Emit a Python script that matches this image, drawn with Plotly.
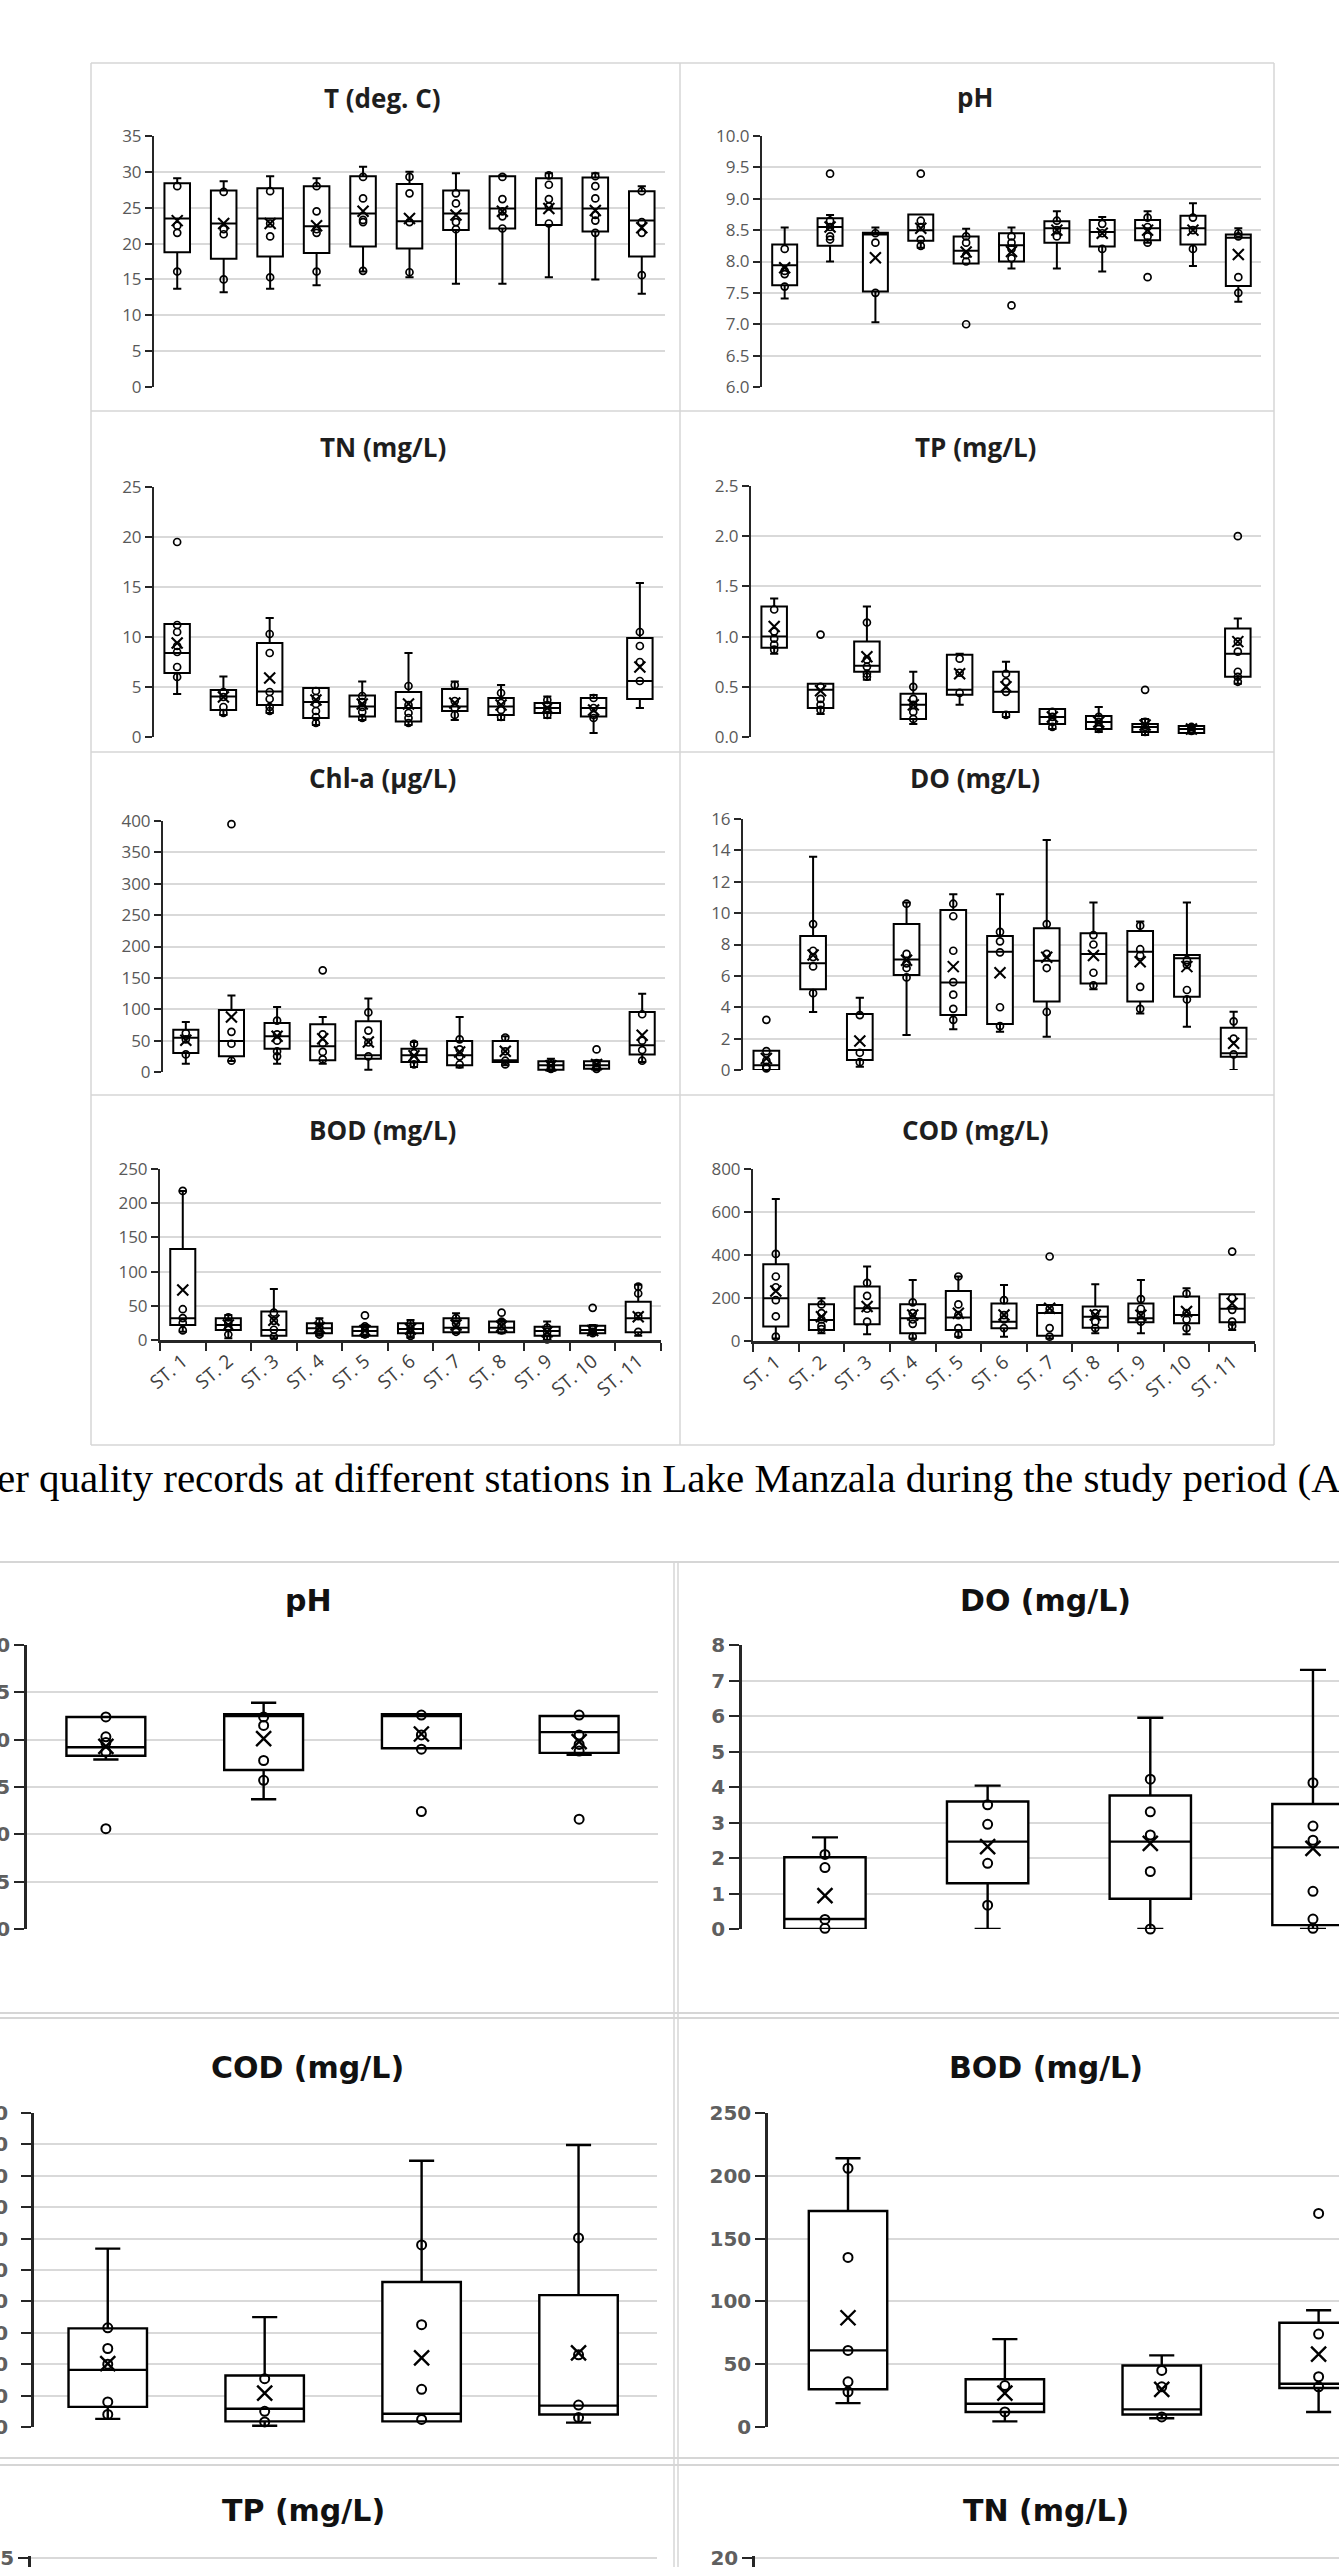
import plotly.graph_objects as go

W, H = 1339, 2567

stations = ["ST. 1", "ST. 2", "ST. 3", "ST. 4", "ST. 5", "ST. 6",
            "ST. 7", "ST. 8", "ST. 9", "ST. 10", "ST. 11"]
groups = [0, 1, 2, 3]   # bottom figure box positions (labels cropped out of view)

caption = "er quality records at different stations in Lake Manzala during the study period (A"

# ---------------- top figure (11 stations) ----------------
T_q1 = [18.8, 17.9, 18.2, 18.7, 19.6, 19.3, 21.9, 22.1, 22.6, 21.7, 18.2]
T_med = [23.5, 22.8, 23.5, 22.4, 24.2, 23.1, 24.2, 24.9, 24.9, 24.9, 23.2]
T_q3 = [28.4, 27.4, 27.7, 28.0, 29.4, 28.3, 27.4, 29.4, 29.1, 29.2, 27.3]
T_lo = [13.7, 13.2, 13.7, 14.2, 16.1, 15.3, 14.4, 14.4, 15.3, 15.0, 13.0]
T_hi = [29.1, 28.7, 29.4, 29.1, 30.7, 30.0, 29.8, 29.5, 29.8, 29.8, 28.0]
T_mean = [23.2, 22.8, 22.8, 22.5, 24.5, 23.5, 24.0, 24.5, 24.9, 24.6, 22.2]
T_pts = [[28.0, 22.5, 21.5, 16.1], [27.2, 22.0, 21.3, 15.0], [27.3, 22.8, 21.0, 15.3],
         [28.0, 24.5, 22.0, 21.5, 16.1], [29.3, 26.3, 23.3, 23.0, 16.2], [29.3, 27.0, 23.0, 16.0],
         [27.0, 25.6, 23.0, 22.0], [29.3, 26.2, 24.5, 23.8, 22.1], [29.5, 28.2, 26.2, 25.2, 22.8],
         [29.4, 28.0, 26.3, 24.0, 23.2, 21.5], [27.3, 23.0, 21.5, 15.6]]

pH_q1 = [7.62, 8.25, 7.52, 8.33, 7.97, 8.0, 8.3, 8.24, 8.34, 8.27, 7.61]
pH_med = [7.94, 8.55, 8.43, 8.5, 8.17, 8.26, 8.53, 8.47, 8.53, 8.53, 8.38]
pH_q3 = [8.27, 8.69, 8.46, 8.75, 8.4, 8.45, 8.64, 8.66, 8.66, 8.73, 8.43]
pH_lo = [7.41, 8.0, 7.03, 8.22, 7.97, 7.89, 7.89, 7.84, 8.3, 7.93, 7.36]
pH_hi = [8.54, 8.74, 8.54, 8.75, 8.52, 8.54, 8.8, 8.71, 8.8, 8.93, 8.53]
pH_mean = [7.9, 8.55, 8.06, 8.53, 8.15, 8.16, 8.5, 8.45, 8.5, 8.5, 8.11]
pH_pts = [[8.2, 7.85, 7.8, 7.6], [9.4, 8.65, 8.55, 8.4, 8.35], [8.45, 8.3, 7.5],
          [9.4, 8.65, 8.55, 8.35, 8.25], [8.4, 8.3, 8.1, 8.0, 7.0], [8.4, 8.3, 8.2, 8.05, 7.3],
          [8.65, 8.5, 8.4], [8.6, 8.45, 8.2], [8.7, 8.55, 8.4, 8.3, 7.75],
          [8.7, 8.5, 8.2], [8.45, 8.4, 7.75, 7.5]]

TN_q1 = [6.4, 2.7, 3.2, 1.9, 2.05, 1.55, 2.6, 2.2, 2.4, 2.05, 3.8]
TN_med = [8.4, 4.05, 4.55, 3.5, 3.05, 2.9, 3.05, 3.05, 2.9, 2.9, 5.6]
TN_q3 = [11.3, 4.7, 9.4, 4.9, 4.15, 4.5, 4.8, 3.9, 3.4, 3.9, 9.9]
TN_lo = [4.3, 2.2, 2.4, 1.2, 1.7, 1.2, 1.7, 1.7, 1.9, 0.4, 2.9]
TN_hi = [11.3, 6.05, 11.9, 4.9, 5.55, 8.4, 5.55, 5.2, 4.05, 4.2, 15.4]
TN_mean = [9.4, 4.0, 5.9, 3.7, 3.3, 3.3, 3.4, 3.2, 2.9, 2.7, 7.0]
TN_pts = [[19.5, 11.2, 10.5, 9.1, 8.5, 7.0, 6.0], [4.5, 4.0, 3.0, 2.4], [10.3, 8.4, 4.5, 3.8, 3.0, 2.6],
          [4.6, 3.9, 3.3, 2.6, 2.0, 1.4], [4.1, 3.5, 3.0, 2.5, 1.9], [5.1, 3.2, 2.4, 1.9, 1.4],
          [5.2, 3.6, 2.9, 2.2], [4.4, 3.4, 2.7, 2.0], [3.7, 3.2, 2.7, 2.2],
          [3.9, 2.9, 2.2, 1.9], [10.5, 9.1, 7.5, 5.6]]

TP_q1 = [0.89, 0.29, 0.65, 0.18, 0.42, 0.25, 0.13, 0.08, 0.05, 0.04, 0.6]
TP_med = [1.0, 0.47, 0.71, 0.32, 0.47, 0.45, 0.2, 0.15, 0.1, 0.08, 0.83]
TP_q3 = [1.30, 0.53, 0.95, 0.43, 0.82, 0.65, 0.28, 0.21, 0.13, 0.11, 1.08]
TP_lo = [0.83, 0.23, 0.57, 0.13, 0.32, 0.2, 0.08, 0.05, 0.02, 0.035, 0.53]
TP_hi = [1.38, 0.53, 1.30, 0.65, 0.83, 0.75, 0.28, 0.30, 0.18, 0.12, 1.18]
TP_mean = [1.1, 0.46, 0.8, 0.32, 0.63, 0.5, 0.2, 0.15, 0.12, 0.08, 0.95]
TP_pts = [[1.27, 1.05, 0.98, 0.92, 0.87], [1.02, 0.5, 0.38, 0.32, 0.27], [1.14, 0.77, 0.7, 0.63, 0.6],
          [0.5, 0.38, 0.32, 0.25, 0.18], [0.78, 0.64, 0.44], [0.63, 0.55, 0.45, 0.22],
          [0.25, 0.2, 0.15, 0.1], [0.2, 0.15, 0.1, 0.08], [0.47, 0.15, 0.1, 0.05],
          [0.1, 0.08, 0.06], [2.0, 0.95, 0.85, 0.65, 0.6, 0.55]]

Chl_q1 = [30.3, 25, 37.2, 18.6, 21, 16, 10.6, 16, 3.7, 5.3, 28]
Chl_med = [54.7, 49.4, 56.8, 41, 26.6, 26.6, 26.6, 18.6, 10.6, 10.6, 42.5]
Chl_q3 = [67.5, 99, 78, 76, 81, 37, 49.4, 49.4, 17, 17, 95.6]
Chl_lo = [13.3, 17.5, 13.3, 13.3, 3.7, 8, 7, 10.6, 1.6, 2.7, 16]
Chl_hi = [79.7, 122, 103.6, 87.6, 117, 47.8, 87.6, 56.8, 21, 18.6, 124.8]
Chl_mean = [50.5, 87.6, 57, 53, 47.8, 26, 32, 33, 10, 12, 58.4]
Chl_pts = [[62, 52, 28], [395, 64, 45, 18], [82, 60, 50, 33, 25], [162, 60, 46, 32, 20],
           [95, 66, 47, 25], [45, 30, 20, 12], [52, 36, 25, 12], [55, 33, 18, 12],
           [15, 10, 5], [36, 14, 8, 5], [92, 50, 35, 18]]

DO_q1 = [0.0, 5.14, 0.64, 6.06, 3.5, 2.93, 4.36, 5.52, 4.36, 4.67, 0.85]
DO_med = [0.3, 6.8, 1.27, 7.05, 5.57, 7.54, 6.97, 7.4, 7.54, 7.12, 1.06]
DO_q3 = [1.23, 8.54, 3.57, 9.3, 10.2, 8.54, 9.03, 8.71, 8.86, 7.33, 2.7]
DO_lo = [0.0, 3.7, 0.2, 2.23, 2.6, 2.44, 2.12, 5.14, 3.6, 2.76, 0.0]
DO_hi = [1.23, 13.6, 4.6, 10.67, 11.2, 11.2, 14.66, 10.67, 9.46, 10.67, 3.72]
DO_mean = [0.74, 7.33, 1.85, 7.0, 6.59, 6.2, 7.18, 7.3, 6.9, 6.59, 1.7]
DO_pts = [[3.2, 1.2, 0.6, 0.2, 0.1], [9.3, 7.6, 7.2, 6.6, 4.9], [3.5, 1.1, 0.5],
          [10.6, 7.4, 6.8, 6.5, 5.9], [10.6, 9.8, 7.6, 5.6, 4.8, 3.9, 3.2], [8.8, 8.2, 7.5, 4.0, 2.8],
          [9.3, 7.4, 6.5, 3.7], [8.6, 8.0, 6.2, 5.4], [9.2, 7.7, 7.3, 5.3, 3.9],
          [7.0, 6.7, 5.1, 4.5], [3.1, 2.0, 1.0]]

BOD_q1 = [22, 14.6, 6.3, 9.8, 6.3, 9.8, 11.2, 11.2, 6.3, 9.8, 11.2]
BOD_med = [31.7, 22, 14.6, 17, 13, 16, 18, 18, 13, 14.6, 31.7]
BOD_q3 = [133, 31.7, 41.5, 24.4, 19.5, 24.4, 31.7, 26.9, 19.5, 21, 56]
BOD_lo = [12.2, 2.4, 2.4, 6.3, 4.9, 3.4, 9.8, 9.8, 0, 8.3, 6.3]
BOD_hi = [218, 36.6, 74.7, 31.7, 22, 29.3, 39, 29.3, 26.9, 22, 80.6]
BOD_mean = [73, 22, 29, 18, 14, 16, 22, 20, 12, 14, 34]
BOD_pts = [[218, 45, 32, 25, 14], [33, 25, 18, 8], [40, 28, 15, 5], [26, 18, 12, 8],
           [36, 20, 13, 8], [24, 17, 10, 6], [32, 24, 12], [40, 27, 20, 14],
           [18, 12, 5, 1], [47, 16, 12, 10], [78, 68, 35, 12]]

COD_q1 = [67, 51, 78, 36, 51, 59, 25, 62, 87, 82, 87]
COD_med = [199, 98, 152, 106, 109, 90, 130, 113, 106, 121, 150]
COD_q3 = [357, 171, 253, 171, 233, 175, 168, 160, 175, 207, 217]
COD_lo = [12, 36, 31, 12, 20, 20, 12, 36, 36, 31, 51]
COD_hi = [660, 199, 346, 284, 300, 261, 168, 264, 284, 245, 217]
COD_mean = [233, 113, 160, 121, 129, 121, 152, 121, 120, 137, 175]
COD_pts = [[405, 300, 250, 190, 115, 20], [170, 130, 100, 70, 55], [270, 210, 150, 90],
           [180, 130, 100, 80, 20], [300, 170, 120, 60, 30], [190, 120, 100, 60],
           [393, 150, 60, 20], [130, 90, 60], [195, 150, 120, 90], [220, 130, 100, 60],
           [416, 200, 145, 90, 70]]

# ---------------- bottom figure (4 groups) ----------------
BpH_q1 = [7.83, 7.68, 7.91, 7.86]
BpH_med = [7.92, 8.25, 8.25, 8.08]
BpH_q3 = [8.24, 8.27, 8.27, 8.25]
BpH_lo = [7.79, 7.37, 7.91, 7.84]
BpH_hi = [8.24, 8.39, 8.27, 8.25]
BpH_mean = [7.93, 8.01, 8.06, 7.98]
BpH_pts = [[8.24, 8.03, 7.97, 7.87, 7.06], [8.24, 8.15, 7.78, 7.57],
           [8.26, 8.05, 7.9, 7.24], [8.26, 8.05, 7.95, 7.88, 7.16]]

BDO_q1 = [0.0, 1.29, 0.85, 0.11]
BDO_med = [0.28, 2.46, 2.46, 2.3]
BDO_q3 = [2.02, 3.59, 3.76, 3.52]
BDO_lo = [0.0, 0.0, 0.0, 0.0]
BDO_hi = [2.58, 4.04, 5.95, 7.3]
BDO_mean = [0.94, 2.32, 2.41, 2.27]
BDO_pts = [[2.1, 1.73, 0.27, 0.02], [3.5, 2.95, 1.85, 0.67],
           [4.22, 3.3, 2.65, 1.62, 0.0], [4.12, 2.9, 2.5, 1.06, 0.28, 0.02]]

BCOD_q1 = [32, 9, 9, 20]
BCOD_med = [91, 29, 21, 34]
BCOD_q3 = [157, 82, 231, 210]
BCOD_lo = [13, 2, 9, 7]
BCOD_hi = [284, 175, 424, 449]
BCOD_mean = [101, 54, 110, 118]
BCOD_pts = [[158, 125, 100, 40, 20], [77, 25, 8], [290, 163, 60, 12], [301, 115, 35, 15]]

BBOD_q1 = [30, 12, 10, 31]
BBOD_med = [61, 18.5, 14, 34.4]
BBOD_q3 = [172, 38, 49, 83]
BBOD_lo = [19, 4.5, 7, 12]
BBOD_hi = [214, 70, 57, 93]
BBOD_mean = [87, 27, 30, 58]
BBOD_pts = [[206, 135, 61, 36, 28], [33, 12], [45, 32, 8], [170, 74, 40, 32]]

BTP_top = 2.5
BTN_top = 20

# ---------------------------------------------------------------
fig = go.Figure()


def fx(p):
    return p / W


def fy(p):
    return 1 - p / H


def names(n):
    return ("x" if n == 1 else f"x{n}"), ("y" if n == 1 else f"y{n}")


def add_boxes(n, xs, q1, med, q3, lo, hi, mean, pts, bw, lw, ms, mlw, xsz):
    xa, ya = names(n)
    fig.add_trace(go.Box(x=xs, q1=q1, median=med, q3=q3, lowerfence=lo, upperfence=hi,
                         width=bw, whiskerwidth=0.32, fillcolor="white",
                         line=dict(color="black", width=lw), boxpoints=False,
                         xaxis=xa, yaxis=ya, showlegend=False, hoverinfo="skip"))
    px_, py_ = [], []
    for x, p in zip(xs, pts):
        px_ += [x] * len(p)
        py_ += p
    fig.add_trace(go.Scatter(x=px_, y=py_, mode="markers", cliponaxis=False,
                             marker=dict(symbol="circle-open", size=ms, color="black",
                                         line=dict(color="black", width=mlw)),
                             xaxis=xa, yaxis=ya, showlegend=False, hoverinfo="skip"))
    fig.add_trace(go.Scatter(x=xs, y=mean, mode="markers", cliponaxis=False,
                             marker=dict(symbol="x-thin", size=xsz, color="black",
                                         line=dict(color="black", width=mlw + 0.4)),
                             xaxis=xa, yaxis=ya, showlegend=False, hoverinfo="skip"))


top_sets = [
    (1, T_q1, T_med, T_q3, T_lo, T_hi, T_mean, T_pts),
    (2, pH_q1, pH_med, pH_q3, pH_lo, pH_hi, pH_mean, pH_pts),
    (3, TN_q1, TN_med, TN_q3, TN_lo, TN_hi, TN_mean, TN_pts),
    (4, TP_q1, TP_med, TP_q3, TP_lo, TP_hi, TP_mean, TP_pts),
    (5, Chl_q1, Chl_med, Chl_q3, Chl_lo, Chl_hi, Chl_mean, Chl_pts),
    (6, DO_q1, DO_med, DO_q3, DO_lo, DO_hi, DO_mean, DO_pts),
    (7, BOD_q1, BOD_med, BOD_q3, BOD_lo, BOD_hi, BOD_mean, BOD_pts),
    (8, COD_q1, COD_med, COD_q3, COD_lo, COD_hi, COD_mean, COD_pts),
]
for n, a, b, c, d, e, f, g in top_sets:
    add_boxes(n, stations, a, b, c, d, e, f, g, 0.55, 2.0, 7, 1.7, 11)

bot_sets = [
    (9, BpH_q1, BpH_med, BpH_q3, BpH_lo, BpH_hi, BpH_mean, BpH_pts),
    (10, BDO_q1, BDO_med, BDO_q3, BDO_lo, BDO_hi, BDO_mean, BDO_pts),
    (11, BCOD_q1, BCOD_med, BCOD_q3, BCOD_lo, BCOD_hi, BCOD_mean, BCOD_pts),
    (12, BBOD_q1, BBOD_med, BBOD_q3, BBOD_lo, BBOD_hi, BBOD_mean, BBOD_pts),
]
for n, a, b, c, d, e, f, g in bot_sets:
    add_boxes(n, groups, a, b, c, d, e, f, g, 0.5, 2.4, 9, 2.0, 15)

# empty subplots whose contents lie below the page edge
for n in (13, 14):
    xa, ya = names(n)
    fig.add_trace(go.Scatter(x=[], y=[], xaxis=xa, yaxis=ya, showlegend=False))

layout = {}
TICKF = dict(family="Open Sans", size=17, color="#595959")
BTICKF = dict(family="DejaVu Sans", size=20, color="#5f5f5f", weight="bold")


def set_axes(n, xdom, ytop_px, ybot_px, yrng, dtick=None, fmt="", tickvals=None,
             xrng=None, cat=True, xlabels=False, bottom=False, standoff=None):
    xa, ya = names(n)
    xk = "xaxis" if n == 1 else f"xaxis{n}"
    yk = "yaxis" if n == 1 else f"yaxis{n}"
    xd = dict(domain=[fx(xdom[0]), fx(xdom[1])], anchor=ya, showgrid=False, zeroline=False,
              range=xrng, fixedrange=True)
    if cat:
        xd.update(type="category", categoryorder="array", categoryarray=stations)
    if xlabels:
        xd.update(showticklabels=True, showline=True, linecolor="#262626", linewidth=2.5,
                  ticks="outside", tickson="boundaries", ticklen=8, tickwidth=2,
                  tickcolor="#262626", tickangle=-40, ticklabeloverflow="allow",
                  tickfont=dict(family="Open Sans", size=19, color="#404040"))
    else:
        xd.update(showticklabels=False, showline=False, ticks="")
    layout[xk] = xd
    yd = dict(domain=[fy(ybot_px), fy(ytop_px)], anchor=xa, range=yrng, showline=True,
              linecolor="#262626", linewidth=2.5 if bottom else 2, ticks="outside",
              ticklen=10 if bottom else 7, tickwidth=2, tickcolor="#262626",
              showgrid=True, gridcolor="#d9d9d9", gridwidth=2 if bottom else 1.5,
              zeroline=False, tickfont=BTICKF if bottom else TICKF, tickformat=fmt,
              ticklabeloverflow="allow", fixedrange=True)
    if standoff is not None:
        yd["ticklabelstandoff"] = standoff
    if tickvals is not None:
        yd.update(tickmode="array", tickvals=tickvals)
    else:
        yd.update(tickmode="linear", tick0=yrng[0], dtick=dtick)
    layout[yk] = yd


TR = [-0.5, 10.5]
set_axes(1, (154, 665), 136, 387, [0, 35], 5, xrng=TR)
set_axes(2, (762, 1261), 136, 387, [6, 10], 0.5, ".1f", xrng=TR)
set_axes(3, (154, 663), 487, 737, [0, 25], 5, xrng=TR)
set_axes(4, (751, 1261), 486, 737, [0, 2.5], 0.5, ".1f", xrng=TR)
set_axes(5, (163, 665), 821, 1072, [0, 400], 50, xrng=TR)
set_axes(6, (743, 1257), 819, 1070, [0, 16], 2, xrng=TR)
set_axes(7, (160, 661), 1169, 1340, [0, 250], 50, xrng=TR, xlabels=True)
set_axes(8, (753, 1255), 1169, 1341, [0, 800], 200, xrng=TR, xlabels=True)

set_axes(9, (27, 658), 1645, 1929, [6, 9], 0.5, ".1f", xrng=[-0.5, 3.5], cat=False, bottom=True)
set_axes(10, (742, 1339), 1645, 1929, [0, 8], 1, xrng=[-0.51, 3.16], cat=False, bottom=True)
set_axes(11, (34, 657), 2113, 2427, [0, 500], 50, xrng=[-0.47, 3.5], cat=False, bottom=True,
         standoff=9)
set_axes(12, (768, 1339), 2113, 2427, [0, 250], 50, xrng=[-0.51, 3.13], cat=False, bottom=True)
# bottom row: only the top tick of each axis is inside the page
px_per_unit_tp = 314 / BTP_top
px_per_unit_tn = 314 / BTN_top
set_axes(13, (31, 657), 2556, 2567,
         [BTP_top - 9 / px_per_unit_tp, BTP_top + 2 / px_per_unit_tp],
         fmt=".1f", tickvals=[BTP_top], xrng=[-0.5, 3.5], cat=False, bottom=True)
set_axes(14, (755, 1339), 2556, 2567,
         [BTN_top - 9 / px_per_unit_tn, BTN_top + 2 / px_per_unit_tn],
         tickvals=[BTN_top], xrng=[-0.5, 3.2], cat=False, bottom=True)

# panel titles
titles_top = [("T (deg. C)", 383, 98), ("pH", 975, 97), ("TN (mg/L)", 383, 447),
              ("TP (mg/L)", 975, 447), ("Chl-a (µg/L)", 383, 778), ("DO (mg/L)", 975, 778),
              ("BOD (mg/L)", 383, 1130), ("COD (mg/L)", 975, 1130)]
titles_bot = [("pH", 308, 1600), ("DO (mg/L)", 1045, 1600), ("COD (mg/L)", 307, 2067),
              ("BOD (mg/L)", 1046, 2067), ("TP (mg/L)", 303, 2510), ("TN (mg/L)", 1046, 2510)]
annotations = []
for t, cx, cy in titles_top:
    annotations.append(dict(text=f"<b>{t}</b>", x=fx(cx), y=fy(cy), xref="paper", yref="paper",
                            xanchor="center", yanchor="middle", showarrow=False,
                            font=dict(family="Open Sans", size=26, color="#1e1e1e")))
for t, cx, cy in titles_bot:
    annotations.append(dict(text=f"<b>{t}</b>", x=fx(cx), y=fy(cy), xref="paper", yref="paper",
                            xanchor="center", yanchor="middle", showarrow=False,
                            font=dict(family="DejaVu Sans", size=30, color="#111111")))
annotations.append(dict(text=caption, x=fx(-5), y=fy(1478), xref="paper", yref="paper",
                        xanchor="left", yanchor="middle", showarrow=False,
                        font=dict(family="Liberation Serif", size=41, color="black")))

# chart-area borders (document frames)
GREY = "#d6d6d6"
shapes = []


def line(x0, y0, x1, y1, w=1.5):
    shapes.append(dict(type="line", xref="paper", yref="paper", x0=fx(x0), y0=fy(y0),
                       x1=fx(x1), y1=fy(y1), line=dict(color=GREY, width=w)))


line(91, 63, 1274, 63)
line(91, 1445, 1274, 1445)
line(91, 63, 91, 1445)
line(1274, 63, 1274, 1445)
line(680, 63, 680, 1445)
for yy in (411, 752, 1095):
    line(91, yy, 1274, yy)
line(0, 1562, 1339, 1562, 2)
line(674, 1562, 674, 2567)
line(678, 1562, 678, 2567)
for yy in (2013, 2018, 2458, 2465):
    line(0, yy, 1339, yy, 2)

fig.update_layout(width=W, height=H, margin=dict(l=0, r=0, t=0, b=0),
                  paper_bgcolor="white", plot_bgcolor="rgba(0,0,0,0)",
                  showlegend=False, template="none", annotations=annotations,
                  shapes=shapes, **layout)

fig.write_html("out.html")
